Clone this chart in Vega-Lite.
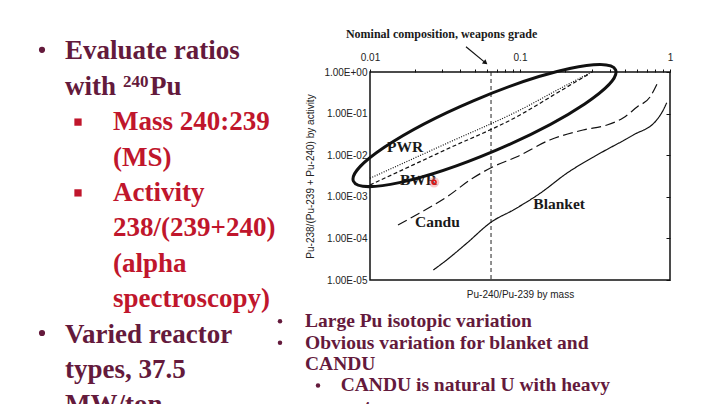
{
  "$schema": "https://vega.github.io/schema/vega-lite/v6.json",
  "width": 300,
  "height": 208,
  "autosize": {"type": "none"},
  "padding": {"left": 370, "top": 72, "right": 50, "bottom": 124},
  "background": "white",
  "config": {
    "view": {"stroke": "#111", "strokeWidth": 1.5},
    "font": "Liberation Sans"
  },
  "datasets": {
    "curves": [
      {"series": "PWR", "x": 0.01, "y": 0.00279},
      {"series": "PWR", "x": 0.0316, "y": 0.0184},
      {"series": "PWR", "x": 0.1, "y": 0.122},
      {"series": "PWR", "x": 0.2048, "y": 0.487},
      {"series": "PWR", "x": 0.302, "y": 1.0},
      {"series": "BWR", "x": 0.01, "y": 0.00192},
      {"series": "BWR", "x": 0.0316, "y": 0.0133},
      {"series": "BWR", "x": 0.1, "y": 0.0925},
      {"series": "BWR", "x": 0.174, "y": 0.304},
      {"series": "BWR", "x": 0.293, "y": 0.93},
      {"series": "Candu", "x": 0.01537, "y": 0.00021},
      {"series": "Candu", "x": 0.01935, "y": 0.000332},
      {"series": "Candu", "x": 0.0326, "y": 0.001},
      {"series": "Candu", "x": 0.0486, "y": 0.00283},
      {"series": "Candu", "x": 0.0651, "y": 0.00512},
      {"series": "Candu", "x": 0.0955, "y": 0.0092},
      {"series": "Candu", "x": 0.158, "y": 0.0232},
      {"series": "Candu", "x": 0.263, "y": 0.0403},
      {"series": "Candu", "x": 0.38, "y": 0.0532},
      {"series": "Candu", "x": 0.486, "y": 0.0784},
      {"series": "Candu", "x": 0.603, "y": 0.144},
      {"series": "Candu", "x": 0.736, "y": 0.251},
      {"series": "Candu", "x": 0.832, "y": 0.575},
      {"series": "Blanket", "x": 0.02644, "y": 0.0000174},
      {"series": "Blanket", "x": 0.03246, "y": 0.0000303},
      {"series": "Blanket", "x": 0.0441, "y": 0.0000762},
      {"series": "Blanket", "x": 0.0648, "y": 0.000252},
      {"series": "Blanket", "x": 0.0902, "y": 0.000482},
      {"series": "Blanket", "x": 0.136, "y": 0.00121},
      {"series": "Blanket", "x": 0.2048, "y": 0.00367},
      {"series": "Blanket", "x": 0.3415, "y": 0.0111},
      {"series": "Blanket", "x": 0.569, "y": 0.0306},
      {"series": "Blanket", "x": 0.815, "y": 0.0702},
      {"series": "Blanket", "x": 0.902, "y": 0.122},
      {"series": "Blanket", "x": 0.951, "y": 0.183}
    ],
    "nominal": [{"x": 0.0641}],
    "labels": [
      {"text": "PWR", "x": 0.01298, "y": 0.01214},
      {"text": "BWR", "x": 0.01585, "y": 0.00192},
      {"text": "Candu", "x": 0.01995, "y": 0.000185},
      {"text": "Blanket", "x": 0.1227, "y": 0.000501}
    ],
    "ellipse": [{"x": 0.058, "y": 0.0515}],
    "pointer": [{"x": 0.02673, "y": 0.00223}],
    "note": [{"text": "Nominal composition, weapons grade", "x": 0.03, "y": 6.46, "ax": 0.04365, "ay": 4.06, "bx": 0.0589, "by": 1.66}],
    "left": [
      {"line": 0, "level": 1, "bullet": true, "part": "main", "text": "Evaluate ratios"},
      {"line": 1, "level": 1, "bullet": false, "part": "main", "text": "with"},
      {"line": 1, "level": 1, "bullet": false, "part": "sup", "text": "240"},
      {"line": 1, "level": 1, "bullet": false, "part": "after", "text": "Pu"},
      {"line": 2, "level": 2, "bullet": true, "part": "main", "text": "Mass 240:239"},
      {"line": 3, "level": 2, "bullet": false, "part": "main", "text": "(MS)"},
      {"line": 4, "level": 2, "bullet": true, "part": "main", "text": "Activity"},
      {"line": 5, "level": 2, "bullet": false, "part": "main", "text": "238/(239+240)"},
      {"line": 6, "level": 2, "bullet": false, "part": "main", "text": "(alpha"},
      {"line": 7, "level": 2, "bullet": false, "part": "main", "text": "spectroscopy)"},
      {"line": 8, "level": 1, "bullet": true, "part": "main", "text": "Varied reactor"},
      {"line": 9, "level": 1, "bullet": false, "part": "main", "text": "types, 37.5"},
      {"line": 10, "level": 1, "bullet": false, "part": "main", "text": "MW/ton"}
    ],
    "bottom": [
      {"line": 0, "level": 1, "bullet": true, "text": "Large Pu isotopic variation"},
      {"line": 1, "level": 1, "bullet": true, "text": "Obvious variation for blanket and"},
      {"line": 2, "level": 1, "bullet": false, "text": "CANDU"},
      {"line": 3, "level": 2, "bullet": true, "text": "CANDU is natural U with heavy"},
      {"line": 4, "level": 2, "bullet": false, "text": "water"}
    ]
  },
  "layer": [
    {
      "layer": [
        {
          "data": {"name": "nominal"},
          "mark": {"type": "rule", "strokeDash": [4, 3], "strokeWidth": 1, "color": "#222"},
          "encoding": {
            "x": {
              "field": "x", "type": "quantitative",
              "scale": {"type": "log", "domain": [0.01, 1]},
              "axis": {
                "orient": "top", "title": null,
                "values": [0.01, 0.02, 0.03, 0.04, 0.05, 0.06, 0.07, 0.08, 0.09, 0.1, 0.2, 0.3, 0.4, 0.5, 0.6, 0.7, 0.8, 0.9, 1],
                "format": "~g",
                "labelExpr": "datum.value == 0.01 || datum.value == 0.1 || datum.value == 1 ? datum.label : ''",
                "labelOverlap": false, "labelFlush": false,
                "ticks": true, "tickSize": 3, "tickColor": "#111", "tickWidth": 1,
                "domain": false, "grid": false,
                "labelFont": "Liberation Sans", "labelFontSize": 10, "labelColor": "#222", "labelPadding": 7
              }
            }
          }
        },
        {
          "data": {"name": "curves"},
          "mark": {"type": "line", "interpolate": "monotone", "color": "#111", "strokeWidth": 1.2},
          "encoding": {
            "x": {"field": "x", "type": "quantitative", "scale": {"type": "log", "domain": [0.01, 1]}, "axis": null},
            "y": {
              "field": "y", "type": "quantitative",
              "scale": {"type": "log", "domain": [0.00001, 1]},
              "axis": {
                "orient": "left",
                "title": "Pu-238/(Pu-239 + Pu-240) by activity",
                "values": [0.00001, 0.0001, 0.001, 0.01, 0.1, 1],
                "labelExpr": "datum.value >= 1 ? '1.00E+00' : '1.00E-0' + format(-log(datum.value)/LN10, '.0f')",
                "ticks": false, "domain": false, "grid": false,
                "labelPadding": 3, "labelFlush": false, "labelOverlap": false,
                "labelFont": "Liberation Sans", "labelFontSize": 10, "labelColor": "#222",
                "titleFont": "Liberation Sans", "titleFontSize": 10, "titleFontWeight": "normal", "titleColor": "#222",
                "titlePadding": 8
              }
            },
            "strokeDash": {
              "field": "series", "type": "nominal",
              "scale": {"domain": ["PWR", "BWR", "Candu", "Blanket"], "range": [[1, 1.5], [4, 2.5], [10, 4.5], [1, 0]]},
              "legend": null
            }
          }
        },
        {
          "data": {"name": "labels"},
          "mark": {"type": "text", "align": "left", "baseline": "alphabetic", "font": "Liberation Serif", "fontWeight": "bold", "fontSize": 15.5, "color": "#1a1a1a"},
          "encoding": {
            "x": {
              "field": "x", "type": "quantitative", "scale": {"type": "log", "domain": [0.01, 1]},
              "axis": {
                "orient": "bottom", "title": "Pu-240/Pu-239 by mass",
                "labels": false, "ticks": false, "domain": false, "grid": false,
                "titleFont": "Liberation Sans", "titleFontSize": 10, "titleFontWeight": "normal", "titleColor": "#222",
                "titlePadding": 9
              }
            },
            "y": {
              "field": "y", "type": "quantitative", "scale": {"type": "log", "domain": [0.00001, 1]},
              "axis": {
                "orient": "right", "title": null, "labels": false,
                "values": [0.00001, 0.0001, 0.001, 0.01, 0.1, 1],
                "ticks": true, "tickSize": -4, "tickColor": "#111", "domain": false, "grid": false
              }
            },
            "text": {"field": "text"}
          }
        },
        {
          "data": {"name": "ellipse"},
          "mark": {
            "type": "point",
            "shape": "M-1,0C-1,-0.1055,-0.5523,-0.191,0,-0.191C0.5523,-0.191,1,-0.1055,1,0C1,0.1055,0.5523,0.191,0,0.191C-0.5523,0.191,-1,0.1055,-1,0Z",
            "filled": false, "stroke": "#111", "strokeWidth": 3, "size": 81111, "angle": 337, "opacity": 1
          },
          "encoding": {
            "x": {"field": "x", "type": "quantitative", "scale": {"type": "log", "domain": [0.01, 1]}, "axis": null},
            "y": {"field": "y", "type": "quantitative", "scale": {"type": "log", "domain": [0.00001, 1]}, "axis": null}
          }
        },
        {
          "data": {"name": "note"},
          "mark": {"type": "text", "align": "center", "baseline": "alphabetic", "font": "Liberation Serif", "fontWeight": "bold", "fontSize": 12, "color": "#1a1a1a"},
          "encoding": {
            "x": {"field": "x", "type": "quantitative", "scale": {"type": "log", "domain": [0.01, 1]}, "axis": null},
            "y": {"field": "y", "type": "quantitative", "scale": {"type": "log", "domain": [0.00001, 1]}, "axis": null},
            "text": {"field": "text"}
          }
        },
        {
          "data": {"name": "note"},
          "mark": {"type": "rule", "color": "#111", "strokeWidth": 1.2},
          "encoding": {
            "x": {"field": "ax", "type": "quantitative", "scale": {"type": "log", "domain": [0.01, 1]}, "axis": null},
            "y": {"field": "ay", "type": "quantitative", "scale": {"type": "log", "domain": [0.00001, 1]}, "axis": null},
            "x2": {"field": "bx"},
            "y2": {"field": "by"}
          }
        },
        {
          "data": {"name": "note"},
          "mark": {"type": "point", "shape": "triangle-up", "filled": true, "color": "#111", "size": 30, "angle": 130, "opacity": 1},
          "encoding": {
            "x": {"field": "bx", "type": "quantitative", "scale": {"type": "log", "domain": [0.01, 1]}, "axis": null},
            "y": {"field": "by", "type": "quantitative", "scale": {"type": "log", "domain": [0.00001, 1]}, "axis": null}
          }
        },
        {
          "data": {"name": "pointer"},
          "mark": {"type": "point", "shape": "circle", "filled": true, "color": "#f08a8a", "size": 110, "opacity": 0.45},
          "encoding": {
            "x": {"field": "x", "type": "quantitative", "scale": {"type": "log", "domain": [0.01, 1]}, "axis": null},
            "y": {"field": "y", "type": "quantitative", "scale": {"type": "log", "domain": [0.00001, 1]}, "axis": null}
          }
        },
        {
          "data": {"name": "pointer"},
          "mark": {"type": "point", "shape": "circle", "filled": false, "stroke": "#e01010", "strokeWidth": 1.5, "size": 16, "opacity": 1},
          "encoding": {
            "x": {"field": "x", "type": "quantitative", "scale": {"type": "log", "domain": [0.01, 1]}, "axis": null},
            "y": {"field": "y", "type": "quantitative", "scale": {"type": "log", "domain": [0.00001, 1]}, "axis": null}
          }
        }
      ],
      "resolve": {"axis": {"x": "independent", "y": "independent"}}
    },
    {
      "data": {"name": "left"},
      "encoding": {
        "x": {"field": "level", "type": "quantitative", "scale": {"domain": [1, 2], "range": [-305, -257]}, "axis": null},
        "y": {"field": "line", "type": "quantitative", "scale": {"domain": [0, 10], "range": [-12.7, 341.3]}, "axis": null}
      },
      "layer": [
        {
          "transform": [{"filter": "datum.part == 'main'"}],
          "mark": {"type": "text", "align": "left", "baseline": "alphabetic", "font": "Liberation Serif", "fontWeight": "bold", "fontSize": 27},
          "encoding": {
            "text": {"field": "text"},
            "color": {"condition": {"test": "datum.level == 2", "value": "#c0162c"}, "value": "#641a3c"}
          }
        },
        {
          "transform": [{"filter": "datum.part == 'sup'"}],
          "mark": {"type": "text", "align": "left", "baseline": "alphabetic", "font": "Liberation Serif", "fontWeight": "bold", "fontSize": 17, "dx": 58, "dy": -8, "color": "#641a3c"},
          "encoding": {"text": {"field": "text"}}
        },
        {
          "transform": [{"filter": "datum.part == 'after'"}],
          "mark": {"type": "text", "align": "left", "baseline": "alphabetic", "font": "Liberation Serif", "fontWeight": "bold", "fontSize": 27, "dx": 85, "color": "#641a3c"},
          "encoding": {"text": {"field": "text"}}
        },
        {
          "transform": [{"filter": "datum.bullet && datum.level == 1"}],
          "mark": {"type": "point", "shape": "circle", "filled": true, "size": 38, "xOffset": -23, "yOffset": -9.5, "color": "#641a3c", "opacity": 1}
        },
        {
          "transform": [{"filter": "datum.bullet && datum.level == 2"}],
          "mark": {"type": "point", "shape": "square", "filled": true, "size": 53, "xOffset": -35, "yOffset": -8, "color": "#c0162c", "opacity": 1}
        }
      ]
    },
    {
      "data": {"name": "bottom"},
      "encoding": {
        "x": {"field": "level", "type": "quantitative", "scale": {"domain": [1, 2], "range": [-65, -29.3]}, "axis": null},
        "y": {"field": "line", "type": "quantitative", "scale": {"domain": [0, 4], "range": [255.3, 340.8]}, "axis": null}
      },
      "layer": [
        {
          "mark": {"type": "text", "align": "left", "baseline": "alphabetic", "font": "Liberation Serif", "fontWeight": "bold", "fontSize": 19.5, "color": "#641a3c"},
          "encoding": {"text": {"field": "text"}}
        },
        {
          "transform": [{"filter": "datum.bullet && datum.level == 1"}],
          "mark": {"type": "point", "shape": "circle", "filled": true, "size": 20, "xOffset": -25, "yOffset": -6, "color": "#641a3c", "opacity": 1}
        },
        {
          "transform": [{"filter": "datum.bullet && datum.level == 2"}],
          "mark": {"type": "point", "shape": "circle", "filled": true, "size": 20, "xOffset": -22.7, "yOffset": -6, "color": "#641a3c", "opacity": 1}
        }
      ]
    }
  ],
  "resolve": {"scale": {"x": "independent", "y": "independent"}}
}
